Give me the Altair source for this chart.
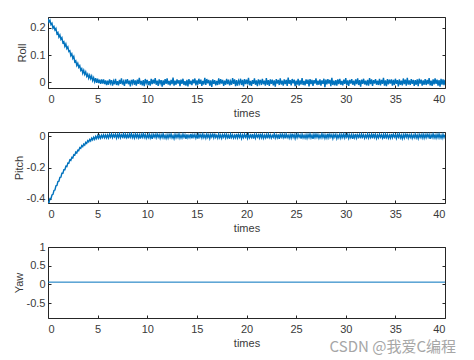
import altair as alt
import pandas as pd

# ---------------- data ----------------
times = [round(i * 0.1, 1) for i in range(401)]

roll = [
    0.234, 0.221, 0.228, 0.212, 0.217, 0.199, 0.205, 0.192, 0.198, 0.178,
    0.183, 0.166, 0.174, 0.158, 0.164, 0.145, 0.149, 0.132, 0.141, 0.124,
    0.130, 0.113, 0.116, 0.098, 0.105, 0.088, 0.095, 0.075, 0.079, 0.062,
    0.070, 0.055, 0.061, 0.044, 0.050, 0.033, 0.044, 0.029, 0.038, 0.022,
    0.030, 0.015, 0.026, 0.013, 0.023, 0.006, 0.017, 0.002, 0.015, -0.002,
    0.013, -0.003, 0.010, -0.006, 0.011, -0.005, 0.011, -0.007, 0.007, -0.010,
    0.006, -0.009, 0.011, -0.004, 0.008, -0.012, 0.005, -0.007, 0.013, -0.010,
    0.004, -0.011, 0.009, -0.006, 0.014, -0.008, 0.003, -0.013, 0.010, -0.005,
    0.012, -0.007, 0.006, -0.015, 0.009, -0.004, 0.011, -0.009, 0.007, -0.012,
    0.010, -0.006, 0.016, -0.008, 0.005, -0.011, 0.008, -0.014, 0.012, -0.003,
    0.009, -0.010, 0.004, -0.012, 0.013, -0.007, 0.010, -0.005, 0.015, -0.009,
    0.006, -0.013, 0.011, -0.004, 0.008, -0.016, 0.007, -0.010, 0.012, -0.006,
    0.014, -0.008, 0.005, -0.011, 0.009, -0.007, 0.017, -0.012, 0.006, -0.009,
    0.011, -0.005, 0.008, -0.014, 0.010, -0.006, 0.013, -0.010, 0.004, -0.012,
    0.009, -0.015, 0.012, -0.007, 0.006, -0.010, 0.011, -0.004, 0.014, -0.011,
    0.007, -0.009, 0.013, -0.006, 0.010, -0.013, 0.005, -0.008, 0.016, -0.010,
    0.012, -0.004, 0.009, -0.012, 0.007, -0.017, 0.011, -0.006, 0.008, -0.011,
    0.005, -0.010, 0.014, -0.008, 0.012, -0.005, 0.009, -0.013, 0.006, -0.009,
    0.013, -0.007, 0.010, -0.011, 0.004, -0.009, 0.015, -0.006, 0.011, -0.014,
    0.008, -0.012, 0.006, -0.005, 0.013, -0.010, 0.009, -0.015, 0.012, -0.007,
    0.010, -0.008, 0.016, -0.011, 0.005, -0.013, 0.008, -0.006, 0.014, -0.009,
    0.007, -0.014, 0.011, -0.004, 0.009, -0.010, 0.013, -0.007, 0.006, -0.012,
    0.015, -0.009, 0.008, -0.013, 0.011, -0.006, 0.010, -0.011, 0.007, -0.016,
    0.012, -0.005, 0.009, -0.010, 0.014, -0.008, 0.006, -0.012, 0.011, -0.007,
    0.009, -0.013, 0.017, -0.006, 0.008, -0.011, 0.012, -0.004, 0.010, -0.014,
    0.006, -0.009, 0.013, -0.012, 0.007, -0.008, 0.015, -0.010, 0.005, -0.011,
    0.011, -0.006, 0.010, -0.015, 0.012, -0.007, 0.009, -0.013, 0.008, -0.005,
    0.014, -0.010, 0.006, -0.009, 0.011, -0.012, 0.007, -0.006, 0.013, -0.018,
    0.010, -0.008, 0.012, -0.005, 0.009, -0.014, 0.016, -0.010, 0.006, -0.011,
    0.008, -0.012, 0.011, -0.007, 0.013, -0.009, 0.005, -0.011, 0.010, -0.006,
    0.015, -0.010, 0.007, -0.013, 0.009, -0.005, 0.012, -0.009, 0.006, -0.012,
    0.011, -0.007, 0.014, -0.010, 0.008, -0.016, 0.010, -0.006, 0.013, -0.008,
    0.006, -0.011, 0.009, -0.012, 0.015, -0.007, 0.011, -0.013, 0.008, -0.005,
    0.012, -0.009, 0.006, -0.010, 0.013, -0.011, 0.009, -0.006, 0.016, -0.012,
    0.007, -0.014, 0.012, -0.008, 0.010, -0.005, 0.011, -0.012, 0.009, -0.010,
    0.013, -0.006, 0.008, -0.015, 0.011, -0.009, 0.006, -0.011, 0.014, -0.007,
    0.010, -0.012, 0.016, -0.008, 0.007, -0.010, 0.012, -0.006, 0.009, -0.013,
    0.008, -0.009, 0.011, -0.014, 0.013, -0.005, 0.010, -0.012, 0.007, -0.009,
    0.012, -0.010, 0.009, -0.007, 0.015, -0.011, 0.006, -0.013, 0.011, -0.008,
    0.014, -0.006, 0.010, -0.012, 0.008, -0.016, 0.013, -0.009, 0.011, -0.010,
    0.009,
]

pitch = [
    -0.418, -0.425, -0.399, -0.400, -0.376, -0.372, -0.347, -0.344, -0.317, -0.315,
    -0.290, -0.288, -0.263, -0.262, -0.237, -0.237, -0.214, -0.214, -0.192, -0.194,
    -0.171, -0.172, -0.151, -0.155, -0.135, -0.139, -0.118, -0.121, -0.101, -0.107,
    -0.089, -0.092, -0.073, -0.078, -0.060, -0.067, -0.050, -0.057, -0.039, -0.046,
    -0.028, -0.036, -0.021, -0.030, -0.012, -0.023, -0.007, -0.020, -0.001, -0.015,
    0.004, -0.013, 0.005, -0.012, 0.006, -0.009, 0.009, -0.009, 0.008, -0.010,
    0.008, -0.011, 0.012, -0.006, 0.014, -0.009, 0.010, -0.004, 0.013, -0.012,
    0.011, -0.007, 0.016, -0.010, 0.009, -0.005, 0.015, -0.013, 0.012, -0.008,
    0.010, -0.014, 0.013, -0.006, 0.017, -0.009, 0.008, -0.011, 0.014, -0.007,
    0.012, -0.010, 0.009, -0.015, 0.011, -0.006, 0.016, -0.008, 0.010, -0.012,
    0.007, -0.009, 0.013, -0.011, 0.008, -0.016, 0.012, -0.005, 0.011, -0.010,
    0.014, -0.006, 0.010, -0.013, 0.009, -0.008, 0.015, -0.011, 0.006, -0.014,
    0.009, -0.012, 0.011, -0.007, 0.013, -0.010, 0.005, -0.015, 0.012, -0.009,
    0.010, -0.008, 0.014, -0.012, 0.007, -0.011, 0.013, -0.006, 0.009, -0.017,
    0.012, -0.010, 0.006, -0.009, 0.015, -0.013, 0.010, -0.007, 0.011, -0.012,
    0.008, -0.015, 0.012, -0.006, 0.010, -0.011, 0.014, -0.009, 0.007, -0.013,
    0.013, -0.007, 0.009, -0.014, 0.011, -0.005, 0.012, -0.010, 0.016, -0.008,
    0.006, -0.012, 0.014, -0.009, 0.008, -0.013, 0.010, -0.006, 0.012, -0.011,
    0.011, -0.009, 0.007, -0.016, 0.013, -0.008, 0.009, -0.012, 0.006, -0.010,
    0.015, -0.011, 0.010, -0.007, 0.012, -0.014, 0.008, -0.009, 0.013, -0.006,
    0.009, -0.013, 0.011, -0.010, 0.007, -0.008, 0.014, -0.015, 0.010, -0.012,
    0.012, -0.006, 0.008, -0.011, 0.016, -0.009, 0.011, -0.013, 0.007, -0.010,
    0.010, -0.014, 0.013, -0.008, 0.009, -0.012, 0.006, -0.007, 0.015, -0.011,
    0.008, -0.010, 0.012, -0.016, 0.011, -0.006, 0.013, -0.009, 0.010, -0.013,
    0.014, -0.008, 0.007, -0.012, 0.010, -0.011, 0.016, -0.007, 0.009, -0.014,
    0.011, -0.009, 0.013, -0.006, 0.008, -0.015, 0.012, -0.010, 0.006, -0.012,
    0.009, -0.013, 0.010, -0.008, 0.014, -0.011, 0.007, -0.016, 0.012, -0.009,
    0.013, -0.007, 0.011, -0.012, 0.006, -0.010, 0.015, -0.008, 0.010, -0.013,
    0.008, -0.011, 0.016, -0.009, 0.012, -0.007, 0.009, -0.014, 0.011, -0.006,
    0.012, -0.015, 0.007, -0.010, 0.013, -0.012, 0.010, -0.008, 0.014, -0.011,
    0.010, -0.006, 0.012, -0.013, 0.009, -0.009, 0.011, -0.016, 0.008, -0.010,
    0.015, -0.012, 0.009, -0.007, 0.011, -0.014, 0.013, -0.006, 0.010, -0.012,
    0.007, -0.009, 0.014, -0.011, 0.010, -0.008, 0.012, -0.013, 0.016, -0.007,
    0.011, -0.014, 0.008, -0.010, 0.013, -0.006, 0.009, -0.012, 0.011, -0.015,
    0.013, -0.008, 0.010, -0.012, 0.007, -0.011, 0.015, -0.009, 0.012, -0.006,
    0.009, -0.013, 0.011, -0.007, 0.014, -0.010, 0.008, -0.015, 0.010, -0.011,
    0.012, -0.006, 0.016, -0.012, 0.009, -0.008, 0.011, -0.013, 0.007, -0.009,
    0.014, -0.010, 0.008, -0.014, 0.012, -0.007, 0.010, -0.011, 0.013, -0.012,
    0.010, -0.009, 0.013, -0.006, 0.011, -0.016, 0.009, -0.008, 0.015, -0.010,
    0.008, -0.012, 0.011, -0.009, 0.014, -0.011, 0.007, -0.013, 0.012, -0.008,
    0.010,
]

yaw_times = [0, 40]
yaw = [0.06, 0.06]

x_ticks = [0, 5, 10, 15, 20, 25, 30, 35, 40]
roll_ticks = [0, 0.1, 0.2]
pitch_ticks = [-0.4, -0.2, 0]
yaw_ticks = [-0.5, 0, 0.5, 1]

watermark = ["CSDN @我爱C编程"]

# ---------------- style ----------------
FONT = "Liberation Sans"
TXT = "#3a3a3a"
AXC = "#262626"
LINE = "#0072BD"
W, H = 397, 71


def panel(df, ycol, ytitle, ydomain, yticks, sw=1.4, extra=None):
    xs = alt.Scale(domain=[0, 40], nice=False, zero=False)
    ys = alt.Scale(domain=ydomain, nice=False, zero=False)
    common = dict(domain=False, grid=False, tickSize=3, offset=-3,
                  tickColor=AXC, tickWidth=1)
    main = alt.Chart(df).mark_line(color=LINE, strokeWidth=sw, clip=True).encode(
        x=alt.X("t:Q", scale=xs, axis=alt.Axis(
            orient="bottom", values=x_ticks, title="times", labelPadding=5,
            labelFont=FONT, labelFontSize=11, labelColor=TXT,
            titleFont=FONT, titleFontSize=11, titleFontWeight="normal",
            titleColor=TXT, titlePadding=3, **common)),
        y=alt.Y(f"{ycol}:Q", scale=ys, axis=alt.Axis(
            orient="left", values=yticks, title=ytitle, labelPadding=3,
            labelExpr="'' + datum.value",
            labelFont=FONT, labelFontSize=11, labelColor=TXT,
            titleFont=FONT, titleFontSize=11, titleFontWeight="normal",
            titleColor=TXT, titlePadding=2, **common)),
    )
    ghost = alt.Chart(df).mark_line(opacity=0, clip=True).encode(
        x=alt.X("t:Q", scale=xs, axis=alt.Axis(
            orient="top", values=x_ticks, labels=False, title=None, **common)),
        y=alt.Y(f"{ycol}:Q", scale=ys, axis=alt.Axis(
            orient="right", values=yticks, labels=False, title=None, **common)),
    )
    layers = [main, ghost]
    if extra is not None:
        layers.append(extra)
    return alt.layer(*layers).resolve_axis(x="independent", y="independent").properties(
        width=W, height=H)


roll_df = pd.DataFrame({"t": times, "v": roll})
pitch_df = pd.DataFrame({"t": times, "v": pitch})
yaw_df = pd.DataFrame({"t": yaw_times, "v": yaw})

wm = alt.Chart(pd.DataFrame({"label": watermark})).mark_text(
    font="Noto Sans CJK SC", fontSize=15, color="#a6a6a6", align="right",
    baseline="middle").encode(text="label:N", x=alt.value(408), y=alt.value(100))

p1 = panel(roll_df, "v", "Roll", [-0.021, 0.24], roll_ticks)
p2 = panel(pitch_df, "v", "Pitch", [-0.427, 0.027], pitch_ticks)
p3 = panel(yaw_df, "v", "Yaw", [-0.9, 1.0], yaw_ticks, sw=1, extra=wm)

chart = alt.vconcat(p1, p2, p3, spacing=44, bounds="flush").properties(
    padding={"left": 12, "top": 16, "right": 5, "bottom": 0},
    background="white",
).configure_view(stroke=AXC, strokeWidth=1)

chart.save("out.html", embed_options={"renderer": "svg", "actions": False})
